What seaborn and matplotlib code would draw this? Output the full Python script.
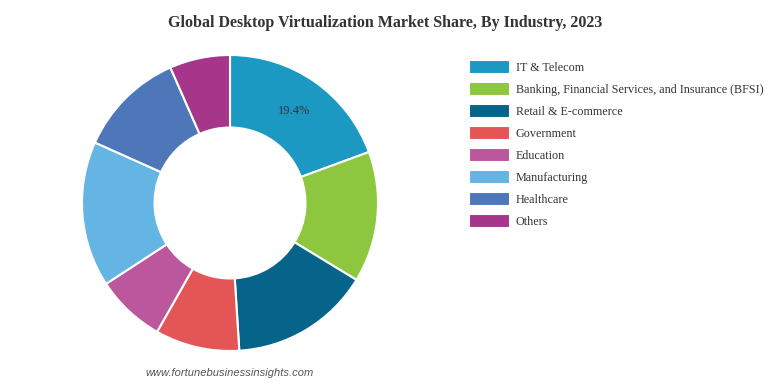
import numpy as np
import matplotlib
matplotlib.use('Agg')
import matplotlib.pyplot as plt
import seaborn as sns

# Data
industries = ['IT & Telecom',
              'Banking, Financial Services, and Insurance (BFSI)',
              'Retail & E-commerce',
              'Government',
              'Education',
              'Manufacturing',
              'Healthcare',
              'Others']
shares = [19.4, 14.3, 15.3, 9.2, 7.6, 15.9, 11.7, 6.6]
colors = ['#1c99c2', '#8dc63f', '#06648a', '#e45656',
          '#bc569d', '#64b5e4', '#4e77b9', '#a63689']

sns.set_theme(style='white')
plt.rcParams['font.family'] = ['Liberation Serif', 'DejaVu Serif']

fig = plt.figure(figsize=(7.7, 3.85), dpi=100)
fig.patch.set_facecolor('white')
ax = fig.add_axes([82 / 770, 34 / 385, 296 / 770, 296 / 385])

wedges, _ = ax.pie(shares, colors=colors, startangle=90, counterclock=False,
                   radius=1.0,
                   wedgeprops=dict(width=0.49, edgecolor='white', linewidth=1.5))
ax.set_xlim(-1, 1)
ax.set_ylim(-1, 1)
ax.set_aspect('equal')
ax.axis('off')

# value label on the largest slice only
w = wedges[0]
mid = np.deg2rad((w.theta1 + w.theta2) / 2)
ax.text(0.755 * np.cos(mid), 0.755 * np.sin(mid), f'{shares[0]}%',
        ha='center', va='center', fontsize=9, color='#333333')

fig.text(0.5, 1 - 23 / 385,
         'Global Desktop Virtualization Market Share, By Industry, 2023',
         ha='center', va='center', fontsize=11.5, fontweight='bold', color='#333333')

leg = fig.legend(wedges, industries, loc='upper left',
                 bbox_to_anchor=(469 / 770, 1 - 60 / 385),
                 frameon=False, fontsize=8.7, handlelength=3.4, handleheight=1.35,
                 handletextpad=0.45, labelspacing=0.68, borderaxespad=0,
                 borderpad=0)
for t in leg.get_texts():
    t.set_color('#333333')

fig.text(230 / 770, 1 - 373 / 385, 'www.fortunebusinessinsights.com',
         ha='center', va='center', fontsize=8, style='italic', color='#555555',
         family=['Liberation Sans', 'DejaVu Sans'])

fig.savefig('out.png', dpi=100, facecolor='white')
